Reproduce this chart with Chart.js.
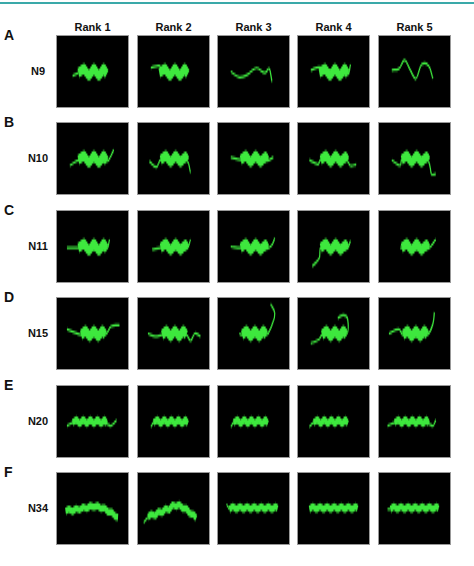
<!DOCTYPE html>
<html><head><meta charset="utf-8">
<script src="https://cdn.jsdelivr.net/npm/chart.js"></script>
<style>
body{margin:0;background:#fff;font-family:"Liberation Sans",Arial,sans-serif;}
#wrap{position:relative;width:474px;height:566px;overflow:hidden;}
.cell{position:absolute;width:73px;height:73px;border:1px solid #999;box-sizing:border-box;background:#000;}
.cell canvas{width:71px!important;height:71px!important;}
.hd{position:absolute;font-weight:bold;font-size:11px;color:#111;text-align:center;width:73px;}
.lt{position:absolute;font-weight:bold;font-size:14px;color:#111;left:4px;}
.rl{position:absolute;font-weight:bold;font-size:11px;color:#111;left:24px;width:28px;text-align:center;}
#topline{position:absolute;left:0;top:2px;width:474px;height:2px;background:#3aa9a9;}
</style></head>
<body><div id="wrap"><div id="topline"></div></div>
<script>
const ranks = ['Rank 1','Rank 2','Rank 3','Rank 4','Rank 5'];
const letters = ['A','B','C','D','E','F'];
const peptides = ['N9','N10','N11','N15','N20','N34'];

// helix ribbons (zigzag), one entry per panel: null = coil only
const helixShort = [[30,48],[38,54],[45,44],[52,54],[59,44],[66,54],[70,46]];
const helixMid   = [[32,48],[39,54],[46,45],[53,54],[60,45],[67,53],[69,47]];
const helixD     = [[34,48],[40,54],[46,46],[52,54],[58,46],[64,54],[68,48]];
const helixE     = [[22,48],[27,53],[32,47],[37,53],[42,47],[47,53],[52,47],[57,53],[62,47],[67,53],[70,47]];
const helixF1    = [[12,46],[17,49],[22,46],[27,50],[32,48],[37,52],[42,50],[47,54],[52,52],[57,54],[62,50],[67,51],[72,45],[77,45],[82,39],[86,38]];
const helixF2    = [[14,38],[19,42],[24,40],[29,46],[34,44],[39,50],[44,48],[49,55],[54,53],[58,56],[63,50],[68,50],[73,43],[78,42],[82,36]];
const helixFflat = [[16,49],[21,53],[26,49],[31,53],[36,49],[41,53],[46,49],[51,53],[56,49],[61,53],[66,49],[71,53],[76,49],[81,53],[84,50]];

const helices = [
  [helixShort, helixShort, null, helixShort, null],
  [helixShort, helixMid, helixMid, helixMid, helixMid],
  [helixShort, helixMid, helixMid, helixMid, helixMid],
  [helixD, helixD, helixD, helixD, helixD],
  [helixE, helixE, helixE, helixE, helixE],
  [helixF1, helixF2, helixFflat, helixFflat, helixFflat]
];

// thin coil tails per panel
const coils = [
  [ [[22,44],[30,48]], [[18,55],[30,58],[34,52]], [[18,50],[30,42],[42,46],[54,55],[66,48],[72,54],[76,36]], [[18,52],[30,56],[70,46],[74,60]], [[18,52],[28,54],[36,66],[44,52],[52,40],[60,60],[70,58],[76,40]] ],
  [ [[18,40],[32,48],[70,46],[80,62]], [[16,46],[26,38],[32,48],[69,47],[74,30]], [[18,52],[32,48],[69,47],[78,52]], [[16,48],[28,42],[32,48],[69,47],[74,40],[82,42]], [[18,48],[30,40],[32,48],[69,47],[72,38],[74,28],[80,28]] ],
  [ [[14,48],[30,48],[70,46],[74,60]], [[20,46],[32,48],[69,47],[74,60]], [[18,50],[32,48],[69,47],[76,52],[80,62]], [[20,22],[30,34],[32,48],[69,47],[74,58]], [[30,48],[32,48],[69,47],[80,60]] ],
  [ [[14,56],[24,52],[34,48],[68,48],[76,60],[88,62]], [[14,50],[24,46],[34,48],[68,48],[74,40],[80,50],[88,46]], [[30,50],[34,48],[68,48],[76,62],[80,78],[74,92]], [[18,36],[30,42],[34,48],[68,48],[70,70],[64,76],[56,72]], [[14,50],[28,56],[34,48],[68,48],[76,64],[78,80]] ],
  [ [[14,44],[22,48],[70,47],[76,44],[84,52]], [[18,42],[22,48],[70,47]], [[18,42],[22,48],[70,47]], [[16,42],[22,48],[70,47]], [[12,44],[22,48],[70,47],[76,44],[80,52]] ],
  [ [[12,44]], [[8,30],[14,38]], [[12,56],[16,49]], [[16,49]], [[12,49],[16,49]] ]
];

const colLeft = [56,137,217,297,378];
const rowTop = [35,122,210,297,385,472];
const green = '#3ee83e';

const bgPlugin = {
  id:'bg',
  beforeDraw(c){ const x=c.ctx; x.save(); x.fillStyle='#000'; x.fillRect(0,0,c.width,c.height); x.restore(); }
};

const wrap = document.getElementById('wrap');
ranks.forEach((r,i)=>{
  const d=document.createElement('div'); d.className='hd'; d.textContent=r;
  d.style.left=colLeft[i]+'px'; d.style.top='21px'; wrap.appendChild(d);
});
letters.forEach((L,ri)=>{
  const l=document.createElement('div'); l.className='lt'; l.textContent=L;
  l.style.top=(rowTop[ri]-8)+'px'; wrap.appendChild(l);
  const p=document.createElement('div'); p.className='rl'; p.textContent=peptides[ri];
  p.style.top=(rowTop[ri]+30)+'px'; wrap.appendChild(p);
  ranks.forEach((_,ci)=>{
    const cell=document.createElement('div'); cell.className='cell';
    cell.style.left=colLeft[ci]+'px'; cell.style.top=rowTop[ri]+'px';
    const cv=document.createElement('canvas'); cell.appendChild(cv); wrap.appendChild(cell);
    const ds=[{data:coils[ri][ci].map(p=>({x:p[0],y:p[1]})),borderColor:green,borderWidth:1.2,pointRadius:0,tension:0.4}];
    const h=helices[ri][ci];
    if(h) ds.push({data:h.map(p=>({x:p[0],y:p[1]})),borderColor:green,borderWidth:ri>=4?3.5:5,pointRadius:0,tension:0.15,borderJoinStyle:'round'});
    new Chart(cv,{type:'line',data:{datasets:ds},plugins:[bgPlugin],
      options:{responsive:false,animation:false,events:[],
        layout:{padding:0},
        plugins:{legend:{display:false},tooltip:{enabled:false}},
        scales:{x:{type:'linear',min:0,max:100,display:false},y:{min:0,max:100,display:false}}}});
  });
});
</script></body></html>
